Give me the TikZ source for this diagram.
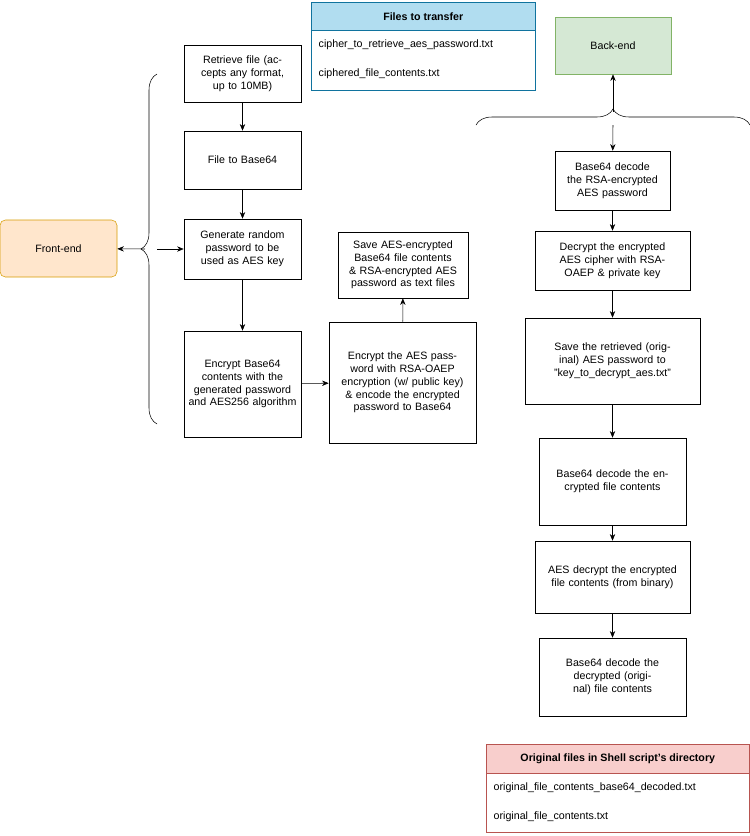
\documentclass[tikz,border=0pt]{standalone}
\usepackage{fontspec}
\setmainfont{Liberation Sans}
\usetikzlibrary{decorations.pathreplacing,arrows.meta}
\definecolor{orf}{HTML}{FFE6CC}\definecolor{ors}{HTML}{D79B00}
\definecolor{grf}{HTML}{D5E8D4}\definecolor{grs}{HTML}{82B366}
\definecolor{blf}{HTML}{B1DDF0}\definecolor{bls}{HTML}{10739E}
\definecolor{rdf}{HTML}{F8CECC}\definecolor{rds}{HTML}{B85450}
\begin{document}
\begin{tikzpicture}[x=0.75pt,y=-0.75pt,
  every node/.style={font=\fontsize{8}{9.6}\selectfont},
  box/.style={draw,fill=white,align=center,inner sep=1pt},
  arr/.style={-{Stealth[length=5pt,width=4pt]}},
  brc/.style={decorate,decoration={brace,amplitude=12pt}}]
\useasboundingbox (0,0) rectangle (750,836);
\newcommand\bx[6]{\node[box,minimum width=#4*0.75pt,minimum height=#5*0.75pt,text width=(#4-8)*0.75pt] (#1) at (#2,#3) {#6};}
% front
\node[draw=ors,fill=orf,rounded corners=4pt,minimum width=87.75pt,minimum height=42.75pt] (fe) at (58.5,248.5) {Front-end};
\bx{r1}{242.5}{73.5}{117}{57}{Retrieve file (accepts any format, up to 10MB)}
\bx{r2}{242.5}{160}{117}{58}{File to Base64}
\bx{r3}{242.5}{249}{117}{60}{Generate random password to be used as AES key}
\bx{r4}{242.5}{384}{117}{106}{Encrypt Base64 contents with the generated password and AES256 algorithm}
\bx{r5}{402.5}{382.5}{147}{121}{Encrypt the AES password with RSA-OAEP encryption (w/ public key) \& encode the encrypted password to Base64}
\bx{r6}{403}{265}{130}{66}{Save AES-encrypted Base64 file contents \& RSA-encrypted AES password as text files}
\draw[arr] (r1) -- (r2);
\draw[arr] (r2) -- (r3);
\draw[arr] (r3) -- (r4);
\draw[arr] (r4) -- (r5);
\draw[arr] (r5) -- (r6);
\draw[brc] (157,424) -- (157,74);
\coordinate (bl) at (145,249);\coordinate (blr) at (157,249);
\draw[arr] (bl) -- (fe);
\draw[arr] (blr) -- (r3);
% files to transfer
\node[draw=bls,fill=white,minimum width=168pt,minimum height=66pt,anchor=north west,inner sep=0] (ft) at (311,2) {};
\node[draw=bls,fill=blf,minimum width=168pt,minimum height=21pt,anchor=north west,font=\fontsize{8}{9.6}\selectfont\bfseries] (fth) at (311,2) {Files to transfer};
\node[anchor=west] (ft1) at (314,45) {cipher\_to\_retrieve\_aes\_password.txt};
\node[anchor=west] (ft2) at (314,74) {ciphered\_file\_contents.txt};
% back
\node[draw=grs,fill=grf,minimum width=87pt,minimum height=42.75pt] (be) at (613,45.5) {Back-end};
\draw[brc] (476,125) -- (750,125);
\coordinate (bt) at (613,112);\coordinate (bb) at (613,125);
\draw[arr] (bt) -- (be);
\bx{b1}{612.5}{180.5}{115}{59}{Base64 decode the RSA-encrypted AES password}
\draw[arr] (bb) -- (b1);
\bx{b2}{612.5}{260.5}{155}{59}{Decrypt the encrypted AES cipher with RSA-OAEP \& private key}
\bx{b3}{612.5}{361}{175}{86}{Save the retrieved (original) AES password to "key\_to\_decrypt\_aes.txt"}
\bx{b4}{612.5}{481.5}{147}{87}{Base64 decode the encrypted file contents}
\bx{b5}{612.5}{577}{155}{72}{AES decrypt the encrypted file contents (from binary)}
\bx{b6}{612.5}{677}{147}{78}{Base64 decode the decrypted (original) file contents}
\draw[arr] (b1) -- (b2);
\draw[arr] (b2) -- (b3);
\draw[arr] (b3) -- (b4);
\draw[arr] (b4) -- (b5);
\draw[arr] (b5) -- (b6);
% original files
\node[draw=rds,fill=white,minimum width=197.25pt,minimum height=66pt,anchor=north west,inner sep=0] (of) at (486,744) {};
\node[draw=rds,fill=rdf,minimum width=197.25pt,minimum height=21.75pt,anchor=north west,font=\fontsize{8}{9.6}\selectfont\bfseries] (ofh) at (486,744) {Original files in Shell script's directory};
\node[anchor=west] (of1) at (489,788) {original\_file\_contents\_base64\_decoded.txt};
\node[anchor=west] (of2) at (489,817) {original\_file\_contents.txt};
\end{tikzpicture}
\end{document}
